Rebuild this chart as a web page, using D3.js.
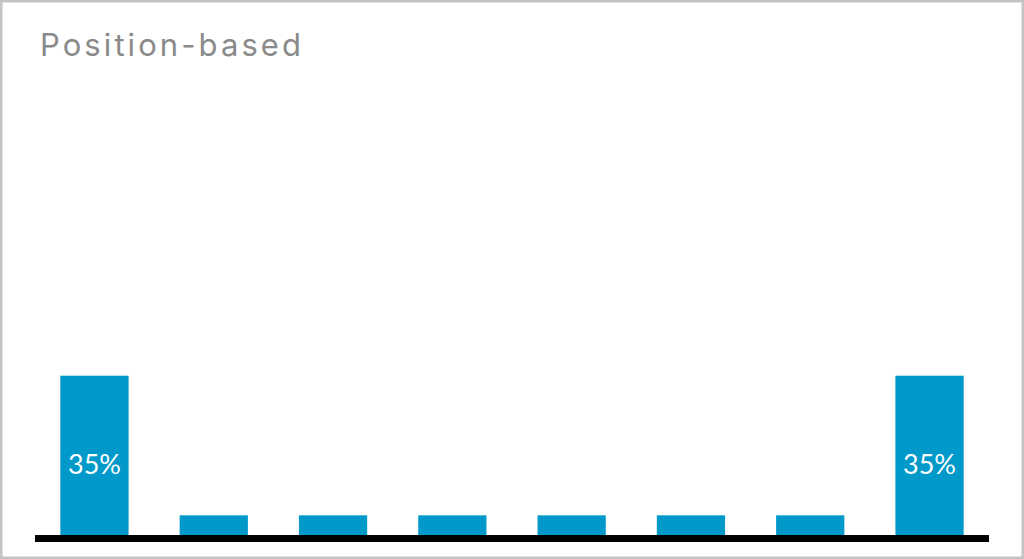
<!DOCTYPE html>
<html>
<head>
<meta charset="utf-8">
<script src="https://cdn.jsdelivr.net/npm/d3@7"></script>
<style>
  html, body { margin: 0; padding: 0; background: #fff; }
  svg { display: block; }
</style>
</head>
<body>
<div id="chart"></div>
<script>
// data
var title = "Position-based";
var touchpoints = ["t1", "t2", "t3", "t4", "t5", "t6", "t7", "t8"];
var credit = [35, 5, 5, 5, 5, 5, 5, 35];
var labelled = [true, false, false, false, false, false, false, true];

var width = 1024, height = 559;

var svg = d3.select("#chart")
  .append("svg")
    .attr("width", width)
    .attr("height", height);

// frame
svg.append("rect")
  .attr("x", 1.25)
  .attr("y", 1.25)
  .attr("width", width - 2.5)
  .attr("height", height - 2.5)
  .attr("fill", "#fff")
  .attr("stroke", "#c4c4c4")
  .attr("stroke-width", 2.5);

// title
svg.append("text")
  .attr("x", 40)
  .attr("y", 56)
  .attr("textLength", 261)
  .attr("lengthAdjust", "spacing")
  .style("font-family", "Inter, sans-serif")
  .style("font-size", "31px")
  .style("fill", "#8a8a8a")
  .text(title);

// scales
let x = d3.scaleBand()
  .domain(touchpoints)
  .range([35, 989])
  .paddingInner(0.428)
  .paddingOuter(0.2125);

let y = d3.scaleLinear()
  .domain([0, 100])
  .range([538.6, 73.2]);

// bars
svg.append("g")
  .selectAll("rect")
  .data(credit)
  .enter()
  .append("rect")
    .attr("x", function (d, i) { return x(touchpoints[i]); })
    .attr("y", function (d) { return y(d); })
    .attr("width", x.bandwidth())
    .attr("height", function (d) { return y(0) - y(d); })
    .style("fill", "#0099c9");

// value labels
svg.append("g")
  .selectAll("text")
  .data(credit.map(function (d, i) { return {v: d, k: touchpoints[i], show: labelled[i]}; })
    .filter(function (d) { return d.show; }))
  .enter()
  .append("text")
    .attr("x", function (d) { return x(d.k) + x.bandwidth() / 2; })
    .attr("y", 474)
    .attr("text-anchor", "middle")
    .style("font-family", "Lato, sans-serif")
    .style("font-size", "27px")
    .style("fill", "#fff")
    .text(function (d) { return d.v + "%"; });

// baseline
svg.append("g")
  .attr("transform", "translate(0," + y(0) + ")")
  .call(d3.axisBottom(x).tickSize(0).tickFormat(""))
  .call(g => g.select(".domain").attr("d", "M35,0H989").attr("stroke", "#000").attr("stroke-width", 7));
</script>
</body>
</html>
